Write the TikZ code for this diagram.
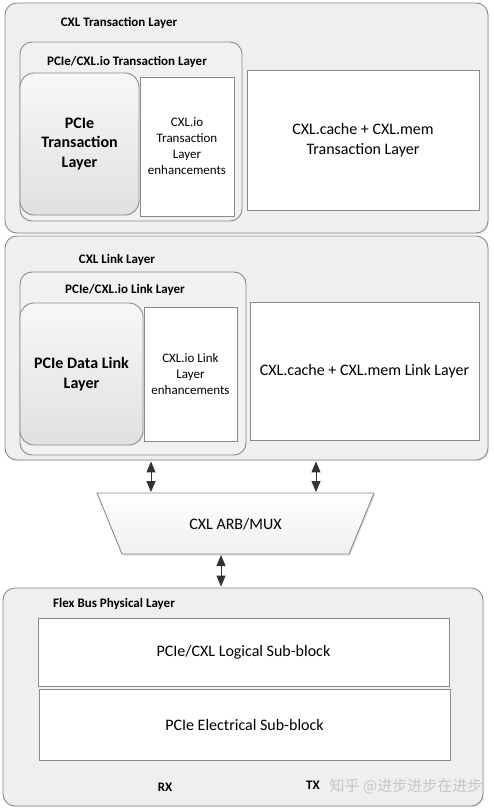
\documentclass[tikz,border=0pt]{standalone}
\usepackage{fontspec}
\setmainfont{Carlito}
\newfontfamily\cjk{Noto Sans CJK SC}
\usetikzlibrary{arrows.meta,shadows}
\definecolor{bord}{HTML}{8A8A8A}
\definecolor{panel}{HTML}{EFEFEF}
\definecolor{inner}{HTML}{F1F1F1}
\tikzset{
  panelbox/.style={draw=bord, line width=0.9pt, fill=panel, rounded corners=12pt, inner sep=0pt,
    drop shadow={opacity=0.18, shadow xshift=1pt, shadow yshift=-1.2pt}},
  iobox/.style={draw=bord, line width=0.9pt, fill=inner, rounded corners=12pt, inner sep=0pt},
  pciebox/.style={draw=bord, line width=0.9pt, top color=gray!6, bottom color=gray!24, rounded corners=14pt,
    align=center, font=\fontsize{16}{19.5}\selectfont\bfseries, inner sep=0pt},
  whitebox/.style={draw=bord, line width=0.9pt, fill=white, align=center, inner sep=0pt,
    drop shadow={opacity=0.15, shadow xshift=0.8pt, shadow yshift=-0.8pt}},
  bigtxt/.style={font=\fontsize{16}{20}\selectfont},
  smalltxt/.style={font=\fontsize{13}{16}\selectfont},
  ttl/.style={font=\fontsize{13}{15}\selectfont\bfseries, inner sep=0pt},
  dbl/.style={{Triangle[width=9pt,length=11pt]}-{Triangle[width=9pt,length=11pt]}, line width=1pt, draw=black!80, fill=black!80, shorten <=1pt, shorten >=1pt},
}
\begin{document}
\begin{tikzpicture}[x=1pt,y=-1pt]
\fill[white] (0,0) rectangle (493,808);
\useasboundingbox (0,0) rectangle (493,808);

% ---- Transaction layer ----
\node[panelbox, minimum width=483pt, minimum height=230pt] (trans) at (246.5,118) {};
\node[ttl] (transT) at (119,23) {CXL Transaction Layer};
\node[iobox, minimum width=222pt, minimum height=179pt] (iotrans) at (131,131.5) {};
\node[ttl] (iotransT) at (127,62) {PCIe/CXL.io Transaction Layer};
\node[pciebox, minimum width=119pt, minimum height=142pt] (pcietrans) at (79.5,144) {PCIe\\Transaction\\Layer};
\node[whitebox, smalltxt, minimum width=94pt, minimum height=139pt] (ioenh) at (187,146.5) {CXL.io\\Transaction\\Layer\\enhancements};
\node[whitebox, bigtxt, minimum width=232pt, minimum height=140pt] (cachetrans) at (363,140) {CXL.cache + CXL.mem\\Transaction Layer};

% ---- Link layer ----
\node[panelbox, minimum width=483pt, minimum height=224pt] (link) at (246.5,348) {};
\node[ttl] (linkT) at (117,260) {CXL Link Layer};
\node[iobox, minimum width=226pt, minimum height=183pt] (iolink) at (133,363.5) {};
\node[ttl] (iolinkT) at (125,290) {PCIe/CXL.io Link Layer};
\node[pciebox, minimum width=123pt, minimum height=142pt] (pciedll) at (81.5,374) {PCIe Data Link\\Layer};
\node[whitebox, smalltxt, minimum width=93pt, minimum height=134pt] (iolinkenh) at (190.5,374) {CXL.io Link\\Layer\\enhancements};
\node[whitebox, bigtxt, minimum width=229pt, minimum height=138pt] (cachelink) at (364.5,371) {CXL.cache + CXL.mem Link Layer};

% ---- ARB/MUX ----
\coordinate (muxTL) at (97,493);
\coordinate (muxTR) at (374,493);
\coordinate (muxBR) at (349,554);
\coordinate (muxBL) at (122,554);
\fill[black, opacity=0.12] ([shift={(1.2,1.5)}]muxTL) -- ([shift={(1.2,1.5)}]muxTR) -- ([shift={(1.2,1.5)}]muxBR) -- ([shift={(1.2,1.5)}]muxBL) -- cycle;
\shade[top color=white, bottom color=gray!12] (muxTL) -- (muxTR) -- (muxBR) -- (muxBL) -- cycle;
\draw[bord, line width=0.9pt, line join=round] (muxTL) -- (muxTR) -- (muxBR) -- (muxBL) -- cycle;
\node[bigtxt] (mux) at (235.5,524) {CXL ARB/MUX};

% ---- Physical layer ----
\node[panelbox, minimum width=480pt, minimum height=218pt] (phy) at (243,697) {};
\node[ttl] (phyT) at (114,604) {Flex Bus Physical Layer};
\node[whitebox, bigtxt, minimum width=411pt, minimum height=68pt] (logical) at (243.5,652) {PCIe/CXL Logical Sub-block};
\node[whitebox, bigtxt, minimum width=411pt, minimum height=71pt] (elec) at (244.5,724.5) {PCIe Electrical Sub-block};
\node[ttl] (rx) at (165,787) {RX};
\node[ttl] (tx) at (313,785) {TX};
\node[font=\cjk\fontsize{15}{17}\selectfont, text=gray!45, inner sep=0pt] (wm) at (406,786) {知乎 @进步进步在进步};

% ---- arrows ----
\coordinate (a1) at (151,0);
\coordinate (a2) at (316,0);
\coordinate (a3) at (221,0);
\draw[dbl] (a1 |- link.south) -- (a1 |- muxTL);
\draw[dbl] (a2 |- link.south) -- (a2 |- muxTL);
\draw[dbl] (a3 |- muxBL) -- (a3 |- phy.north);
\end{tikzpicture}
\end{document}
